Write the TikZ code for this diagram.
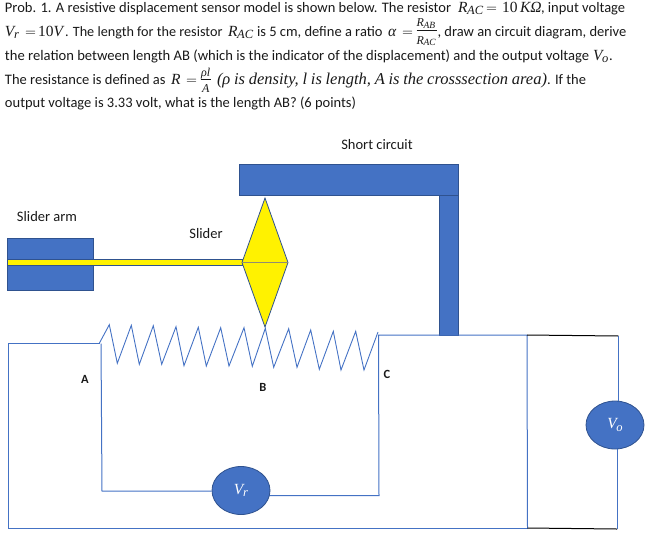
\documentclass[tikz,border=0pt]{standalone}
\usepackage{fontspec}
\setmainfont{Carlito}
\newfontfamily\mth{Liberation Serif}
\usetikzlibrary{shapes.geometric}
\definecolor{fillblue}{HTML}{4472C4}
\definecolor{edgeblue}{HTML}{2F528F}
\newcommand\mi[1]{{\mth\itshape\fontsize{15.5}{17}\selectfont #1}}
\newcommand\ms[1]{{\mth\itshape\fontsize{12.5}{14}\selectfont #1}}
\newcommand\mf[1]{{\mth\itshape\fontsize{12}{13}\selectfont #1}}
\newcommand\sym[2]{\mbox{\mi{#1}}\kern-0.3pt\raisebox{-2.6pt}{\ms{#2}}}
\newcommand\ssym[2]{\mbox{\mf{#1}}\kern-0.2pt\raisebox{-1.6pt}{\fontsize{9.5}{10}\selectfont\mth\itshape #2}}
\tikzset{
  txt/.style={anchor=base west,inner sep=0pt,outer sep=0pt,font=\fontsize{14.5}{16}\selectfont,text=black!90},
  lab/.style={anchor=base,inner sep=0pt,font=\fontsize{14.5}{16}\selectfont,text=black!90},
  blab/.style={anchor=base,inner sep=0pt,font=\fontsize{12.5}{14}\selectfont\bfseries,text=black!90},
  eqsign/.style={anchor=base west,inner sep=0pt,outer sep=0pt,font=\fontsize{14.5}{16}\selectfont},
  rulebar/.style={draw=black!90,line width=0.6pt},
  block/.style={fill=fillblue,draw=edgeblue,line width=0.8pt},
  slide/.style={fill=yellow,draw=edgeblue,line width=0.8pt},
  wire/.style={draw=fillblue,line width=1pt},
  bwire/.style={draw=black,line width=1pt},
  meter/.style={ellipse,fill=fillblue,draw=edgeblue,line width=0.8pt,minimum width=58pt,minimum height=48pt,inner sep=0pt,text=white},
}
\begin{document}
\begin{tikzpicture}[x=1pt,y=-1pt]
\useasboundingbox (0,0) rectangle (651,539);
% line 1
\node[txt] (l1a) at (5,12) {Prob. 1. A resistive displacement sensor model is shown below. The resistor};
\node[txt] (l1b) at (458,12) {\sym{R}{AC}};
\node[eqsign] (l1c) at (486,12) {$=$};
\node[txt] (l1d) at (502,12) {\mbox{{\mth\fontsize{15.5}{17}\selectfont 10}}};
\node[txt] (l1e) at (520,12) {\mi{KΩ}};
\node[txt] (l1f) at (541,12) {, input voltage};
% line 2
\node[txt] (l2a) at (5,36) {\sym{V}{r}};
\node[eqsign] (l2b) at (25,36) {$=$};
\node[txt] (l2c) at (38,36) {{\mth\fontsize{15.5}{17}\selectfont 10}\mi{V}};
\node[txt,font=\fontsize{14.2}{16}\selectfont] (l2d) at (65,36) {. The length for the resistor};
\node[txt] (l2e) at (228,36) {\sym{R}{AC}};
\node[txt] (l2f) at (257,36) {is 5 cm, define a ratio};
\node[txt] (l2g) at (388,36) {\mi{α}};
\node[eqsign] (l2h) at (402,36) {$=$};
\node[txt] (l2i) at (416.5,26.5) {\ssym{R}{AB}};
\node[txt] (l2j) at (416.5,44) {\ssym{R}{AC}};
\draw[rulebar] (416.5,30) -- (437,30);
\node[txt] (l2k) at (437.5,36) {, draw an circuit diagram, derive};
% line 3
\node[txt,font=\fontsize{14.6}{16}\selectfont] (l3a) at (5,60) {the relation between length AB (which is the indicator of the displacement) and the output voltage};
\node[txt] (l3b) at (593,60) {\sym{V}{o}};
\node[txt] (l3c) at (609,60) {.};
% line 4
\node[txt] (l4a) at (5,84) {The resistance is defined as};
\node[txt] (l4b) at (171,84) {\mi{R}};
\node[eqsign] (l4c) at (186,84) {$=$};
\node[txt] (l4d) at (201,76) {\mf{ρl}};
\node[txt] (l4e) at (202,92.5) {\mf{A}};
\draw[rulebar] (200.5,79.5) -- (211,79.5);
\node[txt] (l4f) at (217,84) {\makebox[330pt][s]{\mth\itshape\fontsize{16.5}{18}\selectfont (ρ is density, l is length, A is the crosssection area)}};
\node[txt] (l4g) at (547,84) {. If the};
% line 5
\node[txt] (l5) at (5,107) {output voltage is 3.33 volt, what is the length AB? (6 points)};
% labels
\node[lab] (short) at (377,149) {Short circuit};
\node[lab] (arm) at (47,221) {Slider arm};
\node[lab] (sl) at (206,238) {Slider};
\node[blab] (A) at (85,383) {A};
\node[blab] (B) at (263,391) {B};
\node[blab] (C) at (387,378) {C};
% mechanical parts
\draw[block] (439,195) rectangle (458,335);
\draw[block] (239,164) rectangle (458,195);
\draw[block] (7,238) rectangle (93,290);
\draw[slide] (7,259) rectangle (242,265);
\draw[slide] (265,198) -- (288,262.5) -- (265,327) -- (242,262.5) -- cycle;
\draw[draw=gray!80!olive,line width=1pt] (242,262.5) -- (288,262.5);
% resistor
\draw[draw=fillblue,line width=0.9pt,line join=miter] (99.3,343.3) -- (109.3,324.7) -- (117.3,363.3) -- (131.3,325.3) -- (139.3,364.3) -- (153.3,325.7) -- (161.7,364.3) -- (176,326.7) -- (184,365.7) -- (198.3,327.3) -- (206.3,366) -- (220.7,327.7) -- (229,366) -- (244,327.7) -- (252.3,366.3) -- (265.3,328.3) -- (273.7,367.3) -- (288.7,328.7) -- (297,367.3) -- (310.7,330) -- (319.3,369.3) -- (333.3,331.3) -- (341,370) -- (355.7,331.3) -- (364,370) -- (378,332);
% meters
\node[meter] (Vr) at (241,490.5) {\sym{V}{r}};
\node[meter] (Vo) at (615,425) {\sym{V}{o}};
% wire junctions
\coordinate (aLeft) at (8,343.5);
\coordinate (aEnd) at (99.5,343.5);
\coordinate (aIn) at (101,343.5);
\coordinate (aLow) at (102,491);
\coordinate (cTop) at (378.5,335);
\coordinate (cLow) at (379,495);
\coordinate (jTop) at (527,335);
\coordinate (jBot) at (527.5,528);
\coordinate (oBL) at (8,528);
\coordinate (rTop) at (618.5,336);
\coordinate (rBot) at (617,529);
% wires
\draw[wire] (aEnd) -- (aLeft) -- (oBL) -- (jBot);
\draw[wire] (aIn) -- (aLow) -- (aLow -| Vr.west);
\draw[wire] (Vr.-10) -- (Vr.-10 -| cLow) -- (cTop) -- (jTop) -- (jBot);
\draw[bwire] (jTop) -- (rTop);
\draw[bwire] (jBot) -- (rBot);
\draw[wire] (rTop) -- (rTop |- Vo.north);
\draw[wire] (rBot |- Vo.south) -- (rBot);
\end{tikzpicture}
\end{document}
